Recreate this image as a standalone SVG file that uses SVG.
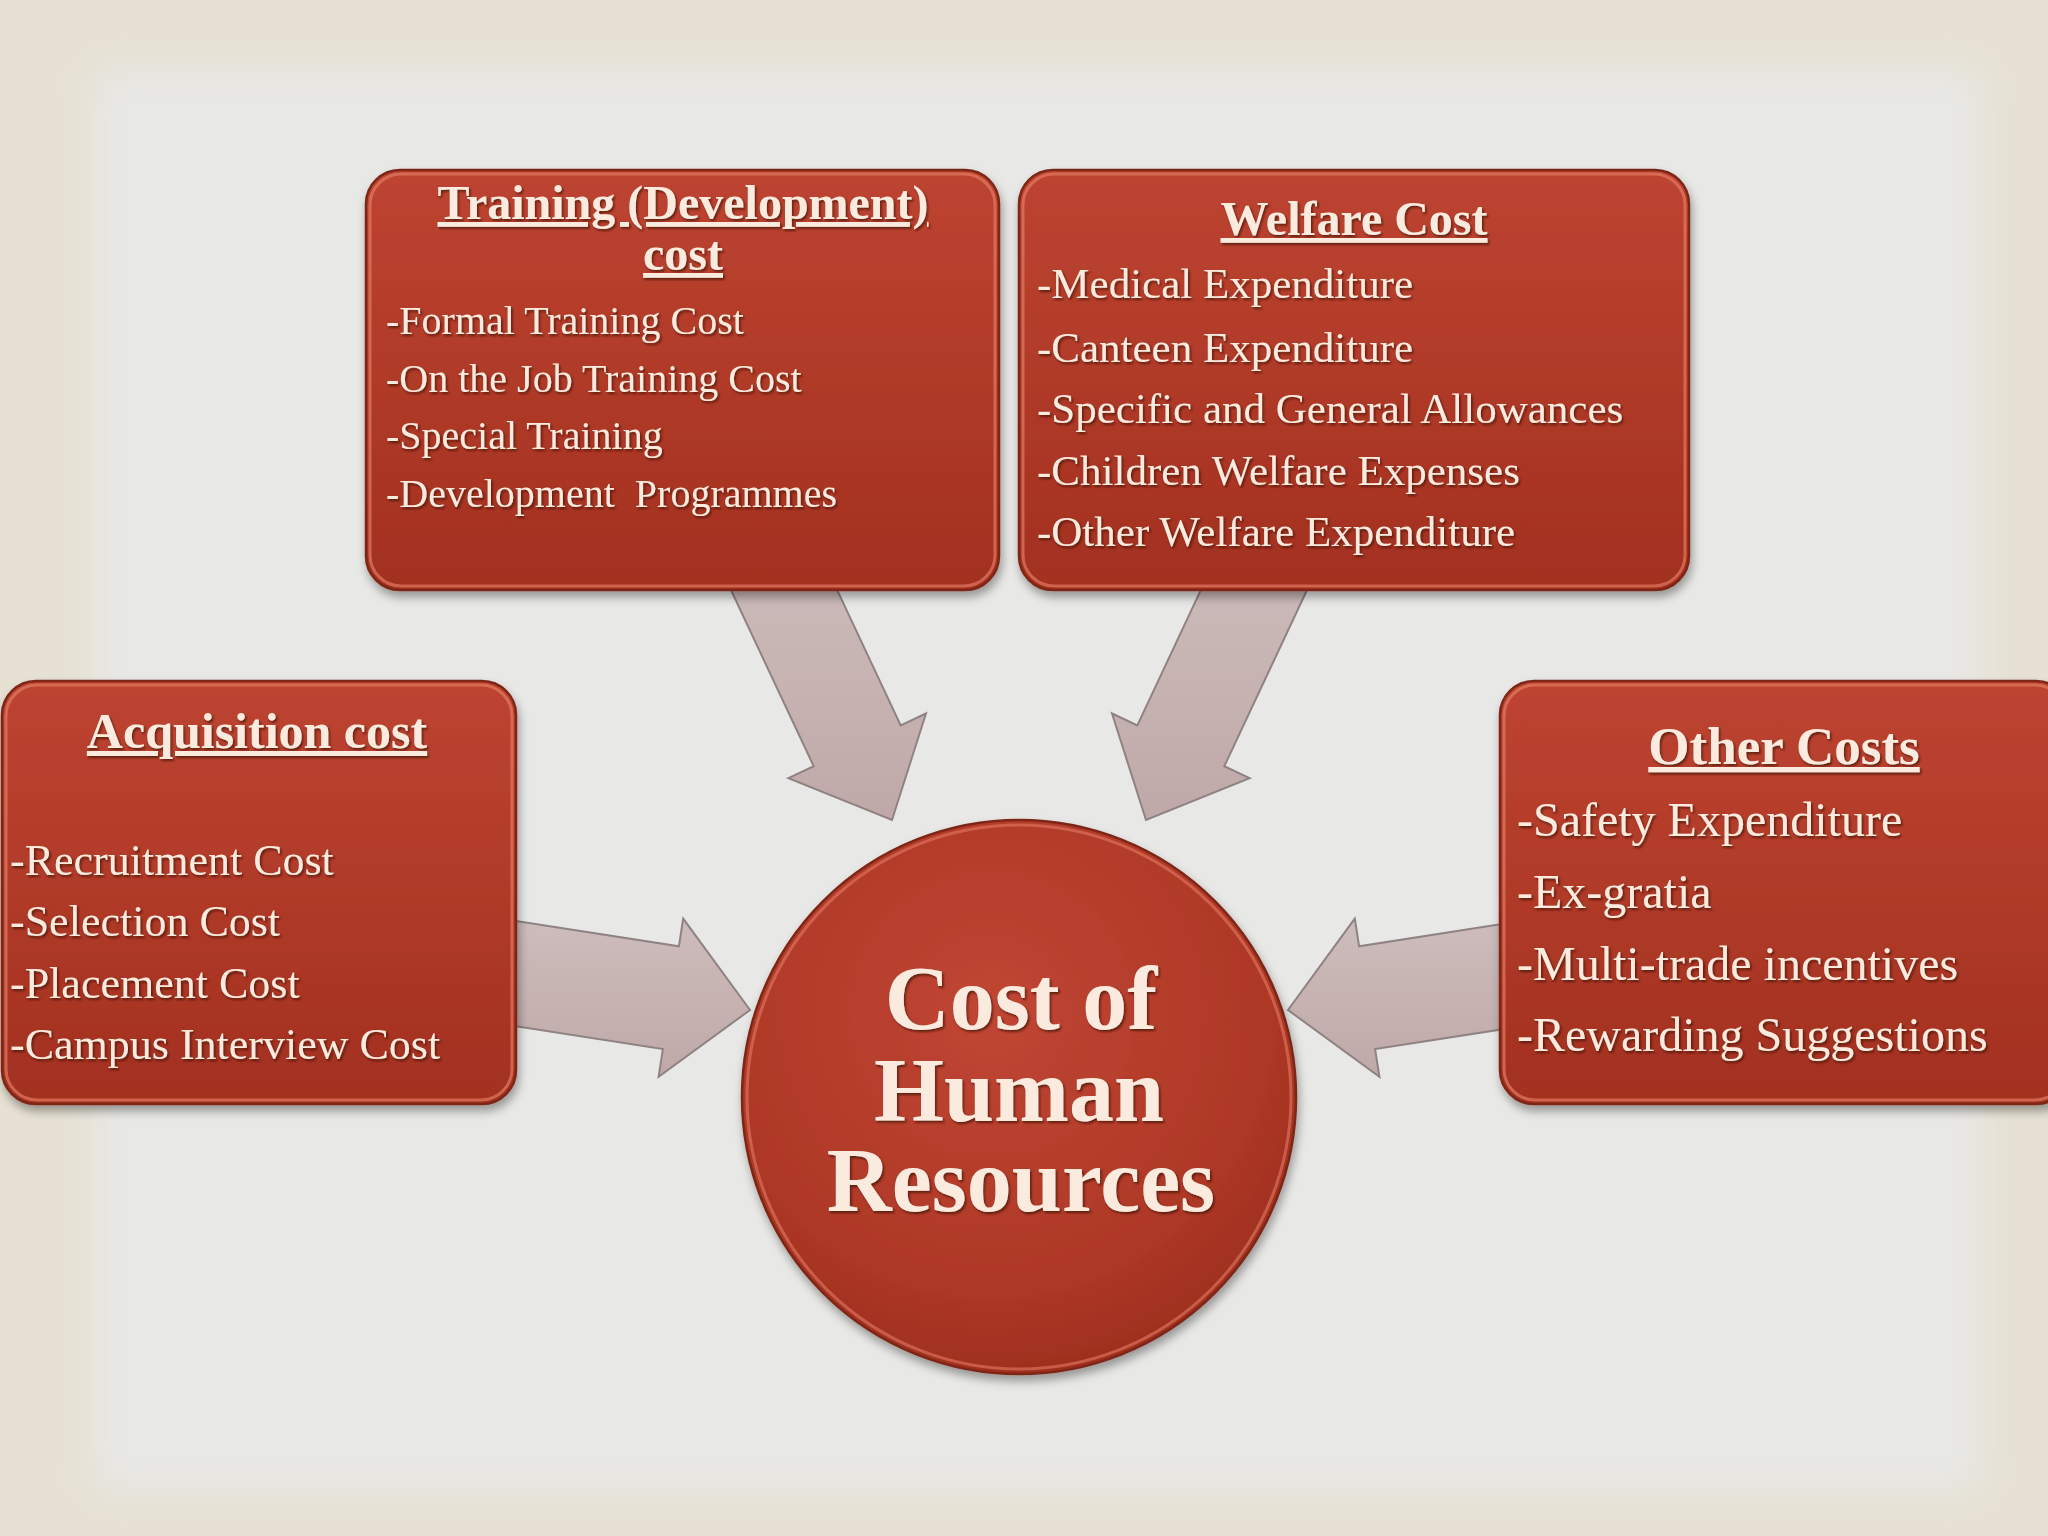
<svg xmlns="http://www.w3.org/2000/svg" width="2048" height="1536" viewBox="0 0 2048 1536">
<defs>
<linearGradient id="boxFill" x1="0" y1="0" x2="0" y2="1">
<stop offset="0" stop-color="#BD4431"/>
<stop offset="0.5" stop-color="#B03A28"/>
<stop offset="1" stop-color="#A2301F"/>
</linearGradient>
<radialGradient id="circFill" cx="0.45" cy="0.35" r="0.7">
<stop offset="0" stop-color="#C04634"/>
<stop offset="0.7" stop-color="#AE3826"/>
<stop offset="1" stop-color="#9A2C1C"/>
</radialGradient>
<linearGradient id="arrowFill" x1="0" y1="0" x2="0" y2="1">
<stop offset="0" stop-color="#CDBDBC"/>
<stop offset="1" stop-color="#BFA9A8"/>
</linearGradient>
<filter id="shadow" x="-10%" y="-10%" width="120%" height="125%">
<feDropShadow dx="2" dy="6" stdDeviation="5" flood-color="#000" flood-opacity="0.35"/>
</filter>
<filter id="txtShadow" x="-5%" y="-20%" width="110%" height="140%">
<feDropShadow dx="1.5" dy="2" stdDeviation="1" flood-color="#3A0A04" flood-opacity="0.7"/>
</filter>
<filter id="soft" x="-5%" y="-5%" width="110%" height="110%">
<feGaussianBlur stdDeviation="18"/>
</filter>
</defs>
<style>
.box{fill:url(#boxFill);stroke:#7E2618;stroke-width:2.5}
.rim{fill:none;stroke:#E27A62;stroke-width:3;opacity:0.7}
.arrow{fill:url(#arrowFill);stroke:#8F8282;stroke-width:2}
text{font-family:"Liberation Serif","Times New Roman",serif;fill:#FBEBDF}
.hdr{font-weight:bold;text-anchor:middle;text-decoration:underline}
.big{font-weight:bold;text-anchor:middle;font-size:90px}
</style>
<rect width="2048" height="1536" fill="#E6E1D3"/>
<rect x="95" y="70" width="1885" height="1420" fill="#E8E8E6" filter="url(#soft)"/>
<g id="connectors">
<polygon class="arrow" points="813.5,539.6 900.7,725.4 926,713.5 892,820 788.4,778.1 813.7,766.2 726.5,580.4"/>
<polygon class="arrow" points="1224.5,539.6 1137.3,725.4 1112,713.5 1146,820 1249.6,778.1 1224.3,766.2 1311.5,580.4"/>
<polygon class="arrow" points="488,916.6 678.9,946.3 683.2,918.6 750,1010 658.6,1076.8 662.9,1049.1 472,1019.4"/>
<polygon class="arrow" points="1550,916.6 1359.1,946.3 1354.8,918.6 1288,1010 1379.4,1076.8 1375.1,1049.1 1566,1019.4"/>
</g>
<g id="training" filter="url(#shadow)">
<rect class="box" x="366" y="170" width="633" height="420" rx="34"/>
<rect class="rim" x="370" y="174" width="625" height="412" rx="31"/>
<g filter="url(#txtShadow)">
<text class="hdr" x="683" y="219" font-size="48">Training (Development)</text>
<text class="hdr" x="683" y="270" font-size="48">cost</text>
<text x="386" y="334" font-size="40">-Formal Training Cost</text>
<text x="386" y="392" font-size="40">-On the Job Training Cost</text>
<text x="386" y="449" font-size="40">-Special Training</text>
<text x="386" y="507" font-size="40" xml:space="preserve">-Development  Programmes</text>
</g>
</g>
<g id="welfare" filter="url(#shadow)">
<rect class="box" x="1019" y="170" width="670" height="420" rx="34"/>
<rect class="rim" x="1023" y="174" width="662" height="412" rx="31"/>
<g filter="url(#txtShadow)">
<text class="hdr" x="1354" y="235" font-size="48">Welfare Cost</text>
<text x="1037" y="298" font-size="43">-Medical Expenditure</text>
<text x="1037" y="362" font-size="43">-Canteen Expenditure</text>
<text x="1037" y="423" font-size="43" xml:space="preserve">-Specific and General Allowances</text>
<text x="1037" y="485" font-size="43">-Children Welfare Expenses</text>
<text x="1037" y="546" font-size="43">-Other Welfare Expenditure</text>
</g>
</g>
<g id="acquisition" filter="url(#shadow)">
<rect class="box" x="2" y="681" width="514" height="423" rx="34"/>
<rect class="rim" x="6" y="685" width="506" height="415" rx="31"/>
<g filter="url(#txtShadow)">
<text class="hdr" x="257" y="748" font-size="50">Acquisition cost</text>
<text x="10" y="875" font-size="44">-Recruitment Cost</text>
<text x="10" y="936" font-size="44">-Selection Cost</text>
<text x="10" y="998" font-size="44">-Placement Cost</text>
<text x="10" y="1059" font-size="44">-Campus Interview Cost</text>
</g>
</g>
<g id="other" filter="url(#shadow)">
<rect class="box" x="1500" y="681" width="570" height="423" rx="34"/>
<rect class="rim" x="1504" y="685" width="562" height="415" rx="31"/>
<g filter="url(#txtShadow)">
<text class="hdr" x="1784" y="764" font-size="53">Other Costs</text>
<text x="1517" y="836" font-size="48">-Safety Expenditure</text>
<text x="1517" y="908" font-size="48">-Ex-gratia</text>
<text x="1517" y="980" font-size="48">-Multi-trade incentives</text>
<text x="1517" y="1051" font-size="48">-Rewarding Suggestions</text>
</g>
</g>
<g id="center" filter="url(#shadow)">
<circle cx="1019" cy="1097" r="277" fill="url(#circFill)" stroke="#7E2618" stroke-width="2.5"/>
<circle cx="1019" cy="1097" r="272" fill="none" stroke="#E27A62" stroke-width="3" opacity="0.6"/>
<g filter="url(#txtShadow)">
<text class="big" x="1021" y="1029">Cost of</text>
<text class="big" x="1019" y="1121">Human</text>
<text class="big" x="1021" y="1211">Resources</text>
</g>
</g>
</svg>
